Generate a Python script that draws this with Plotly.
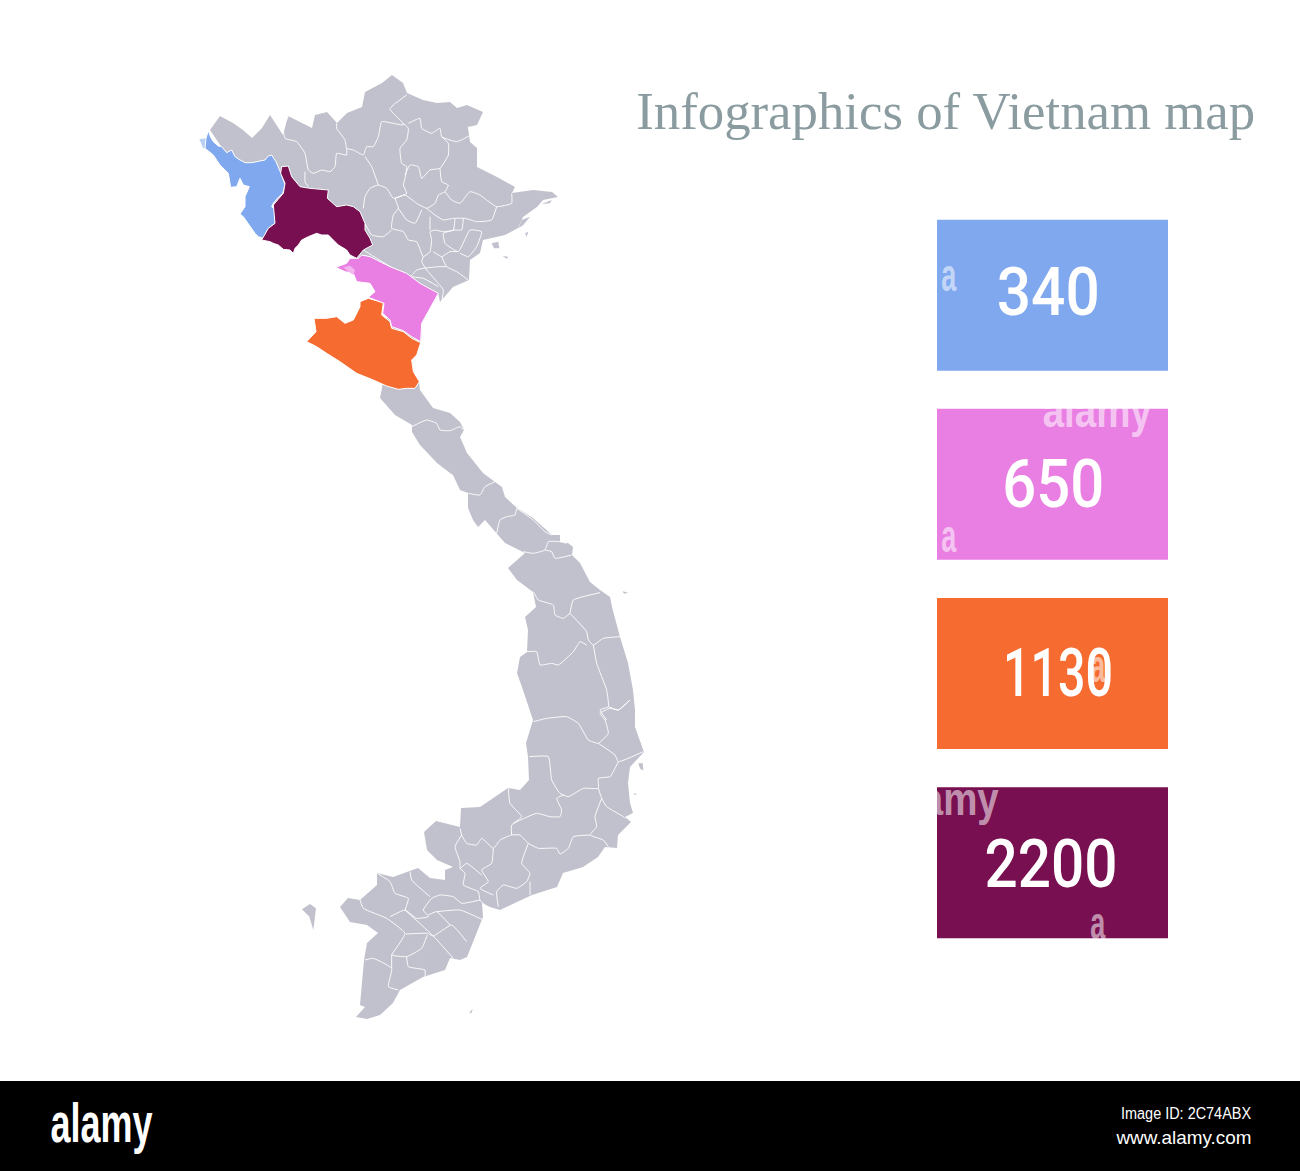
import json
import plotly.graph_objects as go

# tiles
provinces = ["Lai Chau", "Thanh Hoa", "Nghe An", "Son La"]
values = [340, 650, 1130, 2200]
tile_colors = ["#7FA8EF", "#E97FE3", "#F66C30", "#780F50"]
value_shift = [-4, 1, 5, -2]
value_rise = [3, 0, 0, -2]
value_width = [103, 102, 110, 133]

# map colours
color_land = "#C0C1CC"
color_title = "#8B9CA1"

title_text = "Infographics of Vietnam map"

# outline of the country, page pixels
outline = [
    (210,130),(220,116),(233,123),(243,130),(252,138),(262,128),(270,115),(283,135),(288,116),(300,122),(312,128),(315,115),(327,112),
    (337,123),(347,113),(362,107),(365,92),(382,83),(392,75),(403,83),(407,93),(423,100),(437,103),
    (450,102),(457,108),(467,105),(483,112),(477,125),(468,127),(470,142),(477,148),(477,167),(497,177),
    (515,187),(512,193),(533,190),(552,192),(558,197),(543,200),(537,207),(523,217),(518,228),(505,235),
    (483,240),(480,253),(470,260),(469,280),(453,287),(440,302),(438,293),(430,308),(422,323),(421,342),(412,360),
    (413,372),(419,382),(420,390),(433,408),(450,413),(460,422),(464,430),(460,437),(467,453),(483,473),(495,482),
    (502,487),(505,497),(517,508),(533,518),(552,535),(560,535),(560,542),(568,543),(573,547),(572,555),
    (580,563),(590,582),(600,590),(610,597),(612,607),(620,637),(628,663),(633,690),(635,710),(635,727),
    (644,752),(630,767),(628,783),(630,803),(633,813),(625,817),(631,822),(618,835),(617,848),(605,847),
    (598,857),(583,867),(563,873),(557,887),(532,895),(500,910),(490,907),(482,903),(483,917),(473,942),
    (467,957),(460,960),(450,958),(445,970),(423,977),(400,990),(393,1003),(380,1015),(367,1019),(356,1017),
    (365,1007),(360,1005),(364,960),(367,943),(378,933),(367,925),(350,922),(340,907),(348,898),(360,900),
    (377,885),(377,873),(393,877),(418,868),(430,878),(445,880),(445,870),(453,867),(437,860),(427,850),
    (424,832),(436,821),(460,827),(461,808),(480,807),(508,788),(520,790),(529,780),(528,757),(526,743),
    (533,720),(523,690),(517,673),(520,657),(527,652),(528,630),(525,617),(536,607),(533,592),(517,580),
    (508,568),(525,553),(505,543),(498,535),(485,520),(478,527),(473,520),(468,508),(468,493),(460,490),
    (453,475),(450,473),(437,463),(420,445),(412,432),(412,425),(395,415),(380,398),(382,388),(390,327),
    (377,287),(363,267),(358,257),(330,213),(283,210),(237,170),
]

blue_zone = [
    (55,212),(62,232),(70,245),(85,258),(95,260),(110,278),(125,270),(135,290),(150,300),(165,308),(185,308),(205,305),(225,300),(235,288),(245,285),(258,305),(265,320),(275,345),(285,375),
    (278,400),(262,415),(250,430),(245,440),(258,450),(255,490),(235,505),(220,535),(205,530),(195,520),(175,490),(160,470),(150,462),(165,440),
    (165,410),(178,380),(160,375),(150,355),(140,380),(122,382),(115,340),(90,315),(70,285),(45,265),(48,235),
]
blue_tip = [(28,238),(48,235),(50,265),(40,265)]
purple_zone = [
    (275,320),(295,318),(305,350),(330,380),(360,385),(395,388),(415,390),(412,415),(428,430),(440,440),(470,435),(490,440),(510,455),
    (525,490),(525,510),(540,535),(548,555),(520,570),(500,595),(480,585),(470,570),(445,555),(430,540),(415,525),(395,525),(380,520),(355,530),(335,540),
    (325,555),(315,565),(310,580),(300,570),(280,568),(265,555),(250,550),(240,545),(215,540),(235,505),(255,490),(250,435),(280,400),(285,370),
    (272,340),
]
pink_zone = [
    (437,622),(470,610),(480,595),(505,595),(515,585),(540,590),(560,600),(600,620),(650,640),(690,670),
    (745,700),(720,745),(695,790),(692,845),(665,830),(640,812),(605,800),(600,780),(578,760),(582,730),
    (535,712),(555,695),(540,670),(500,665),(490,640),(465,635),
]
pink_patch = [(460,622),(480,617),(495,630),(490,645),(472,632)]
orange_zone = [
    (350,845),(378,815),(372,775),(410,775),(440,770),(465,790),(490,780),(510,740),(510,725),(535,715),
    (580,728),(575,765),(600,785),(605,805),(640,815),(665,835),(692,848),(680,885),(665,900),(670,935),
    (688,965),(675,985),(650,985),(625,988),(590,978),(550,960),(500,940),(450,905),(410,880),(380,860),
]

north_islands = [
    [(905,550),(925,545),(928,565),(912,565)],
    [(938,588),(955,590),(950,596)],
    [(985,505),(995,480),(1020,470),(1000,495)],
    [(1005,520),(1015,515),(1010,530)],
    [(1055,432),(1085,420),(1080,430)],
]

north_borders = [
    [(650,105),(610,135),(600,148),(635,185),(640,195),(610,190),(575,185),(565,230),(550,260),(530,260),(520,285),(490,270),(470,265),(465,240),(440,205),(440,190)],
    [(640,190),(655,205),(650,240),(630,265),(635,310),(650,320),(645,355),(640,375),(650,400),(615,415)],
    [(655,190),(690,175),(695,205),(725,220),(750,205),(755,230),(800,245),(840,225),(835,200)],
    [(755,230),(775,250),(775,285),(750,325),(720,330),(695,355),(685,320),(660,315),(645,345)],
    [(750,325),(755,365),(775,375),(765,395),(745,405),(735,430),(710,445),(680,430),(645,405),(610,415),(590,385),(565,375),(540,385),(525,410),(520,445)],
    [(565,375),(545,320),(525,290)],
    [(470,265),(470,285),(440,280),(435,320),(420,335),(395,330),(370,340),(355,330),(345,280),(320,245),(285,235),(280,200),(295,170)],
    [(345,335),(345,365),(355,380)],
    [(765,395),(785,420),(810,430),(840,395),(870,405),(890,420),(920,440),(965,430),(965,400)],
    [(920,440),(905,480),(860,485),(825,475),(790,475),(760,480),(735,465),(710,445)],
    [(615,415),(625,445),(610,465),(605,505),(640,515),(655,540),(680,545),(700,590),(720,575),(725,540),(720,515),(735,510),(760,515),(790,510),(795,475)],
    [(625,445),(650,480),(675,490),(695,450)],
    [(720,470),(720,510)],
    [(605,510),(580,530),(545,525),(525,490)],
    [(820,475),(815,510),(795,510),(760,520),(765,550),(805,575),(840,510),(875,515),(860,560),(835,590),(810,580)],
    [(730,575),(755,590),(780,575),(805,575)],
    [(755,590),(770,620),(800,635),(835,660)],
    [(700,590),(695,605),(710,630),(745,670),(760,690),(755,725)],
    [(520,570),(560,595),(610,625),(660,650),(680,630),(700,625),(745,620),(770,620)],
    [(660,650),(700,655),(745,680)],
]

# crop of the centre
centre_borders = [
    [(125,140),(170,120),(200,130),(210,150),(240,152),(270,140),(280,150)],
    [(295,340),(330,345),(345,320),(375,305)],
    [(380,460),(390,420),(410,410),(435,405),(440,385)],
    [(440,385),(490,420),(525,455),(545,465)],
    [(460,515),(490,520),(525,510),(535,485),(570,485),(590,490)],
    [(525,510),(545,515),(555,535),(605,525)],
    [(490,635),(505,660),(550,675),(555,705),(580,715),(600,700)],
    [(600,700),(610,660),(690,638)],
    [(600,700),(650,755),(655,780),(670,795),(700,775),(750,770)],
    [(470,815),(500,815),(510,855),(545,850),(565,855),(610,815),(630,785),(650,795)],
    [(670,795),(680,850),(710,930),(715,980),(690,990),(710,1020)],
    [(715,980),(745,990),(780,960)],
]
centre_islands = [[(758,634),(775,638),(762,641)]]

# crop of the south
south_borders = [
    [(730,65),(770,55),(830,50),(865,70),(895,120),(925,130),(955,100),(945,60),(930,40),(960,25),(985,30),(1020,0)],
    [(925,130),(975,165),(985,185),(1060,155)],
    [(985,185),(960,230),(925,235),(925,265),(880,265),(835,290),(810,280),(785,240),(775,170),(718,170)],
    [(925,265),(935,295),(950,320),(1000,350),(1005,355)],
    [(935,295),(915,350),(920,380),(900,405),(940,420),(955,440)],
    [(900,405),(850,410),(835,445),(810,462),(800,445),(745,445),(715,430),(690,405),(665,405),(630,420),(610,445),(575,415),(560,435),(530,430),(515,405),(510,385)],
    [(665,405),(665,375),(740,340),(780,350),(810,350),(815,330),(800,295),(820,285)],
    [(655,265),(660,310),(695,350),(670,370)],
    [(715,430),(695,490),(720,520),(710,545),(680,565),(640,555),(620,575),(625,620)],
    [(610,445),(605,490),(575,510),(595,545),(570,565),(610,585)],
    [(515,405),(495,440),(510,485),(510,505),(530,490),(575,525)],
    [(510,505),(525,520),(520,555),(565,575),(570,600),(590,620)],
    [(570,600),(515,610),(490,590),(450,585),(425,595),(400,630),(415,650),(380,655),(345,630),(300,650)],
    [(720,545),(720,585)],
    [(360,515),(365,540),(420,590)],
    [(262,520),(300,545),(315,580),(355,595),(345,630)],
    [(210,600),(220,625),(290,655),(345,700),(315,750),(305,765),(350,770),(395,745),(412,705)],
    [(345,630),(430,708),(490,775)],
    [(348,702),(412,700),(430,708),(485,675),(530,725)],
    [(415,645),(440,635),(480,675)],
    [(440,635),(510,630),(580,660)],
    [(225,780),(250,775),(305,805),(295,860),(325,870)],
    [(305,765),(305,805)],
    [(350,770),(355,800),(405,810),(405,830)],
]
south_islands = [
    [(36,628),(60,612),(78,625),(70,690),(58,650)],
    [(537,940),(548,926),(545,938)],
    [(1045,190),(1058,190),(1060,212),(1050,205)],
    [(1032,280),(1042,282),(1034,285)],
]

# white stock-photo marks over the tiles
mark_text = ["a", "a", "a", "a", "alamy", "alamy"]
mark_x = [949, 949, 1098, 1098, 1097, 944]
mark_y = [275, 536, 666, 923, 411, 799]
mark_width = [15, 15, 15, 15, 109, 109]


def north(pts):
    return [(190 + x / 3, 60 + y / 3) for x, y in pts]

def centre(pts):
    return [(370 + x / 3, 380 + y / 3) for x, y in pts]

def south(pts):
    return [(290 + x / 3, 700 + y / 3) for x, y in pts]

def make_area(pts, color, line_color=None):
    xs = [p[0] for p in pts] + [pts[0][0]]
    ys = [p[1] for p in pts] + [pts[0][1]]
    return go.Scatter(x=xs, y=ys, mode="lines", fill="toself", fillcolor=color,
                      line=dict(width=1 if line_color else 0, color=line_color or color),
                      hoverinfo="skip")

def make_border(pts):
    return go.Scatter(x=[p[0] for p in pts], y=[p[1] for p in pts], mode="lines",
                      line=dict(width=0.9, color="white", shape="spline", smoothing=0.4),
                      hoverinfo="skip")


fig = go.Figure()
fig.add_trace(make_area(outline, color_land))
for isl in north_islands:
    fig.add_trace(make_area(north(isl), color_land))
for isl in centre_islands:
    fig.add_trace(make_area(centre(isl), color_land))
for isl in south_islands:
    fig.add_trace(make_area(south(isl), color_land))

for b in north_borders:
    fig.add_trace(make_border(north(b)))
for b in centre_borders:
    fig.add_trace(make_border(centre(b)))
for b in south_borders:
    fig.add_trace(make_border(south(b)))

fig.add_trace(make_area(north(blue_tip), "#B9CFF3"))
fig.add_trace(make_area(north(blue_zone), tile_colors[0], "white"))
fig.add_trace(make_area(north(orange_zone), tile_colors[2], "white"))
fig.add_trace(make_area(north(pink_zone), tile_colors[1], "white"))
fig.add_trace(make_area(north(pink_patch), "#F3B5EF"))
fig.add_trace(make_area(north(purple_zone), tile_colors[3], "white"))

# tiles are plain equal bars on their own axes
fig.add_trace(go.Bar(x=[1, 1, 1, 1], y=provinces, orientation="h", width=0.798,
                     marker=dict(color=tile_colors, line=dict(width=0)),
                     xaxis="x2", yaxis="y2", hoverinfo="skip"))

# annotation widths, squeezed in the page since the original fonts are narrower
fit_widths = []

for v, p, s, r, w in zip(values, provinces, value_shift, value_rise, value_width):
    fig.add_annotation(x=0.5, y=p, xref="x2", yref="y2", text=str(v), showarrow=False, xshift=s, yshift=r,
                       font=dict(family="Roboto", size=66, weight=500, color="white"))
    fit_widths.append(w)

for t, x, y, w in zip(mark_text, mark_x, mark_y, mark_width):
    fig.add_annotation(x=x, y=y, xref="x", yref="y", text=t, showarrow=False,
                       font=dict(family="Liberation Sans", size=46, weight=700, color="rgba(255,255,255,0.55)"))
    fit_widths.append(w)

fig.add_annotation(x=945.5, y=111, xref="x", yref="y", text=title_text, showarrow=False,
                   font=dict(family="Liberation Serif", size=53, color=color_title))
fit_widths.append(619)

# black footer strip
fig.add_shape(type="rect", xref="x", yref="y", x0=0, x1=1300, y0=1081, y1=1171,
              fillcolor="black", line_width=0, layer="below")
fig.add_annotation(x=101, y=1122, xref="x", yref="y", text="alamy", showarrow=False,
                   font=dict(family="Liberation Sans", size=56, weight=700, color="white"))
fit_widths.append(102)
fig.add_annotation(x=1260, y=1113, xref="x", yref="y", text="Image ID: 2C74ABX", showarrow=False, xanchor="right",
                   font=dict(family="Liberation Sans", size=16, color="white"))
fit_widths.append(130)
fig.add_annotation(x=1254, y=1137, xref="x", yref="y", text="www.alamy.com", showarrow=False, xanchor="right",
                   font=dict(family="Liberation Sans", size=19, color="white"))
fit_widths.append(135)

fig.update_layout(
    width=1300, height=1171, margin=dict(l=0, r=0, t=0, b=0),
    paper_bgcolor="white", plot_bgcolor="rgba(0,0,0,0)", showlegend=False,
    xaxis=dict(range=[0, 1300], domain=[0, 1], visible=False),
    yaxis=dict(range=[1171, 0], domain=[0, 1], visible=False),
    xaxis2=dict(range=[0, 1], domain=[937 / 1300, 1168 / 1300], anchor="y2", visible=False),
    yaxis2=dict(type="category", categoryorder="array", categoryarray=provinces, autorange="reversed",
                domain=[1 - 956.65 / 1171 - 0.0006, 1 - 199.85 / 1171 - 0.0006], anchor="x2", visible=False),
)

post = """
document.body.style.margin='0';
document.documentElement.style.overflow='hidden';
var w = %s;
document.querySelectorAll('.annotation-text').forEach(function(t, i) {
    t.setAttribute('textLength', w[i]);
    t.setAttribute('lengthAdjust', 'spacingAndGlyphs');
});
""" % json.dumps(fit_widths)

fig.write_html("out.html", config=dict(displayModeBar=False), post_script=post)
